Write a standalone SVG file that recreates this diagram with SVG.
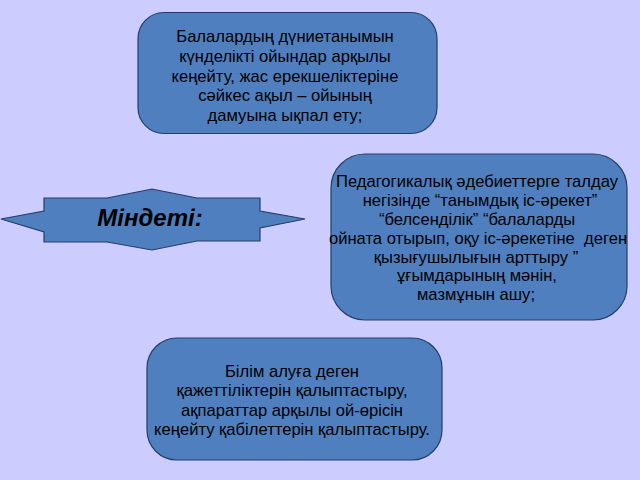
<svg xmlns="http://www.w3.org/2000/svg" width="640" height="480" viewBox="0 0 640 480">
<style>
.box{fill:#4f7fbf;stroke:#243f66;stroke-width:1.2}
.t{font-family:"Liberation Sans",Arial,sans-serif;font-size:16.6px;fill:#000;text-anchor:middle}
.title{font-family:"Liberation Sans",Arial,sans-serif;font-size:24px;font-weight:bold;font-style:italic;fill:#000;text-anchor:middle}
</style>
<rect width="640" height="480" fill="#ccccff"/>
<g id="star">
<polygon class="box" points="1,219 44,211 44,198 107,198 152,189 197,198 260,198 260,211 305,219 260,228 260,241 197,241 152,250 107,242 44,242 44,232"/>
<text class="title" x="150" y="226">Міндеті:</text>
</g>
<g id="box1">
<rect class="box" x="138" y="12.5" width="299" height="121" rx="26" ry="26"/>
<text class="t" x="285" y="42">Балалардың дүниетанымын</text>
<text class="t" x="285" y="62">күнделікті ойындар арқылы</text>
<text class="t" x="285" y="81.5">кеңейту, жас ерекшеліктеріне</text>
<text class="t" x="285" y="101">сәйкес ақыл – ойының</text>
<text class="t" x="285" y="120.5">дамуына ықпал ету;</text>
</g>
<g id="box2">
<rect class="box" x="331" y="154" width="296" height="166" rx="34" ry="34"/>
<text class="t" x="477" y="187">Педагогикалық әдебиеттерге талдау</text>
<text class="t" x="480" y="206">негізінде “танымдық іс-әрекет”</text>
<text class="t" x="477" y="225">“белсенділік” “балаларды</text>
<text class="t" x="478" y="244" xml:space="preserve" style="white-space:pre">ойната отырып, оқу іс-әрекетіне  деген</text>
<text class="t" x="476" y="263">қызығушылығын арттыру ”</text>
<text class="t" x="477" y="281">ұғымдарының мәнін,</text>
<text class="t" x="476" y="300">мазмұнын ашу;</text>
</g>
<g id="box3">
<rect class="box" x="147" y="338" width="295" height="122" rx="30" ry="30"/>
<text class="t" x="292" y="377">Білім алуға деген</text>
<text class="t" x="292" y="396">қажеттіліктерін қалыптастыру,</text>
<text class="t" x="292" y="415.5">ақпараттар арқылы ой-өрісін</text>
<text class="t" x="292" y="435">кеңейту қабілеттерін қалыптастыру.</text>
</g>
<g id="connectors"/>
</svg>
